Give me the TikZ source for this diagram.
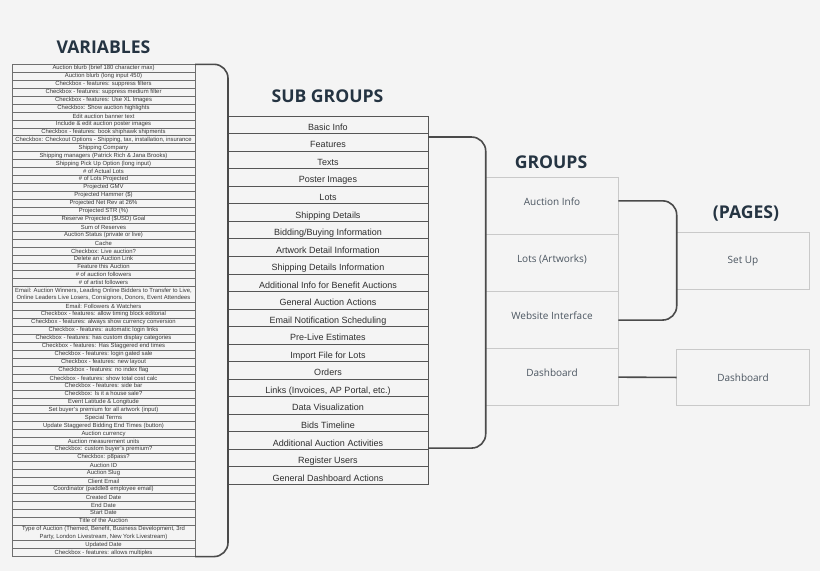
\documentclass[tikz,border=0pt]{standalone}
\usepackage{fontspec}
\setmainfont{Liberation Sans}
\newfontfamily\tfont{Open Sans}
\usetikzlibrary{positioning}
\definecolor{bg}{HTML}{F4F4F4}
\definecolor{vline}{HTML}{6E6E6E}
\definecolor{vtext}{HTML}{3A3A3A}
\definecolor{sline}{HTML}{555555}
\definecolor{stext}{HTML}{2E2E2E}
\definecolor{gline}{HTML}{C9C9C9}
\definecolor{gtext}{HTML}{4A5560}
\definecolor{ttl}{HTML}{253442}
\definecolor{brk}{HTML}{4A4A4A}
\tikzset{
  var/.style={draw=vline, line width=0.55pt, minimum width=183pt, minimum height=7.94pt,
    inner sep=0pt, outer sep=0pt, text=vtext, font=\fontsize{5.9}{7.7}\selectfont, anchor=north},
  var2/.style={var, minimum height=15.88pt, align=center},
  sub/.style={draw=sline, line width=0.7pt, minimum width=200pt, minimum height=17.54pt,
    inner sep=0pt, outer sep=0pt, text=stext, font=\fontsize{9}{10}\selectfont,
    text height=11.1pt, text depth=0pt, anchor=north},
  grp/.style={draw=gline, line width=0.8pt, minimum width=132.6pt, minimum height=57.1pt,
    inner sep=0pt, outer sep=0pt, text=gtext, font=\tfont\fontsize{10}{12}\selectfont, anchor=north},
  grpt/.style={grp, text height=6pt, text depth=6.6pt},
  ttlnode/.style={text=ttl, font=\tfont\bfseries\fontsize{17.6}{20}\selectfont, inner sep=0pt},
  bracket/.style={draw=brk, line width=1.6pt, rounded corners=14pt},
}
\begin{document}
\begin{tikzpicture}[x=1pt,y=-1pt]
\fill[bg] (0,0) rectangle (820,571);
\useasboundingbox (0,0) rectangle (820,571);

% titles
\node[ttlnode] (tv) at (103.5,47) {VARIABLES};
\node[ttlnode] (ts) at (327.5,96) {SUB GROUPS};
\node[ttlnode] (tg) at (551,162) {GROUPS};
\node[ttlnode] (tp) at (746,214) {(PAGES)};

% variables
\node[var] (v1) at (103.5,64.3) {Auction blurb (brief 180 character max)};
\node[var, below=0pt of v1] (v2) {Auction blurb (long input 450)};
\node[var, below=0pt of v2] (v3) {Checkbox - features: suppress filters};
\node[var, below=0pt of v3] (v4) {Checkbox - features: suppress medium filter};
\node[var, below=0pt of v4] (v5) {Checkbox - features: Use XL Images};
\node[var, below=0pt of v5] (v6) {Checkbox: Show auction highlights};
\node[var, below=0pt of v6] (v7) {Edit auction banner text};
\node[var, below=0pt of v7] (v8) {Include \& edit auction poster images};
\node[var, below=0pt of v8] (v9) {Checkbox - features: book shiphawk shipments};
\node[var, below=0pt of v9] (v10) {Checkbox: Checkout Options - Shipping, tax, installation, insurance};
\node[var, below=0pt of v10] (v11) {Shipping Company};
\node[var, below=0pt of v11] (v12) {Shipping managers (Patrick Rich \& Jana Brooks)};
\node[var, below=0pt of v12] (v13) {Shipping Pick Up Option (long input)};
\node[var, below=0pt of v13] (v14) {\# of Actual Lots};
\node[var, below=0pt of v14] (v15) {\# of Lots Projected};
\node[var, below=0pt of v15] (v16) {Projected GMV};
\node[var, below=0pt of v16] (v17) {Projected Hammer (\$)};
\node[var, below=0pt of v17] (v18) {Projected Net Rev at 26\%};
\node[var, below=0pt of v18] (v19) {Projected STR (\%)};
\node[var, below=0pt of v19] (v20) {Reserve Projected (\$USD) Goal};
\node[var, below=0pt of v20] (v21) {Sum of Reserves};
\node[var, below=0pt of v21] (v22) {Auction Status (private or live)};
\node[var, below=0pt of v22] (v23) {Cache};
\node[var, below=0pt of v23] (v24) {Checkbox: Live auction?};
\node[var, below=0pt of v24] (v25) {Delete an Auction Link};
\node[var, below=0pt of v25] (v26) {Feature this Auction};
\node[var, below=0pt of v26] (v27) {\# of auction followers};
\node[var, below=0pt of v27] (v28) {\# of artist followers};
\node[var2, below=0pt of v28] (v29) {Email: Auction Winners, Leading Online Bidders to Transfer to Live,\\Online Leaders Live Losers, Consignors, Donors, Event Attendees};
\node[var, below=0pt of v29] (v30) {Email: Followers \& Watchers};
\node[var, below=0pt of v30] (v31) {Checkbox - features: allow timing block editorial};
\node[var, below=0pt of v31] (v32) {Checkbox - features: always show currency conversion};
\node[var, below=0pt of v32] (v33) {Checkbox - features: automatic login links};
\node[var, below=0pt of v33] (v34) {Checkbox - features: has custom display categories};
\node[var, below=0pt of v34] (v35) {Checkbox - features: Has Staggered end times};
\node[var, below=0pt of v35] (v36) {Checkbox - features: login gated sale};
\node[var, below=0pt of v36] (v37) {Checkbox - features: new layout};
\node[var, below=0pt of v37] (v38) {Checkbox - features: no index flag};
\node[var, below=0pt of v38] (v39) {Checkbox - features: show total cost calc};
\node[var, below=0pt of v39] (v40) {Checkbox - features: side bar};
\node[var, below=0pt of v40] (v41) {Checkbox: Is it a house sale?};
\node[var, below=0pt of v41] (v42) {Event Latitude \& Longitude};
\node[var, below=0pt of v42] (v43) {Set buyer's premium for all artwork (input)};
\node[var, below=0pt of v43] (v44) {Special Terms};
\node[var, below=0pt of v44] (v45) {Update Staggered Bidding End Times (button)};
\node[var, below=0pt of v45] (v46) {Auction currency};
\node[var, below=0pt of v46] (v47) {Auction measurement units};
\node[var, below=0pt of v47] (v48) {Checkbox: custom buyer's premium?};
\node[var, below=0pt of v48] (v49) {Checkbox: p8pass?};
\node[var, below=0pt of v49] (v50) {Auction ID};
\node[var, below=0pt of v50] (v51) {Auction Slug};
\node[var, below=0pt of v51] (v52) {Client Email};
\node[var, below=0pt of v52] (v53) {Coordinator (paddle8 employee email)};
\node[var, below=0pt of v53] (v54) {Created Date};
\node[var, below=0pt of v54] (v55) {End Date};
\node[var, below=0pt of v55] (v56) {Start Date};
\node[var, below=0pt of v56] (v57) {Title of the Auction};
\node[var2, below=0pt of v57] (v58) {Type of Auction (Themed, Benefit, Business Development, 3rd\\Party, London Livestream, New York Livestream)};
\node[var, below=0pt of v58] (v59) {Updated Date};
\node[var, below=0pt of v59] (v60) {Checkbox - features: allows multiples};

% sub groups
\node[sub] (s1) at (328,116) {Basic Info};
\node[sub, below=0pt of s1] (s2) {Features};
\node[sub, below=0pt of s2] (s3) {Texts};
\node[sub, below=0pt of s3] (s4) {Poster Images};
\node[sub, below=0pt of s4] (s5) {Lots};
\node[sub, below=0pt of s5] (s6) {Shipping Details};
\node[sub, below=0pt of s6] (s7) {Bidding/Buying Information};
\node[sub, below=0pt of s7] (s8) {Artwork Detail Information};
\node[sub, below=0pt of s8] (s9) {Shipping Details Information};
\node[sub, below=0pt of s9] (s10) {Additional Info for Benefit Auctions};
\node[sub, below=0pt of s10] (s11) {General Auction Actions};
\node[sub, below=0pt of s11] (s12) {Email Notification Scheduling};
\node[sub, below=0pt of s12] (s13) {Pre-Live Estimates};
\node[sub, below=0pt of s13] (s14) {Import File for Lots};
\node[sub, below=0pt of s14] (s15) {Orders};
\node[sub, below=0pt of s15] (s16) {Links (Invoices, AP Portal, etc.)};
\node[sub, below=0pt of s16] (s17) {Data Visualization};
\node[sub, below=0pt of s17] (s18) {Bids Timeline};
\node[sub, below=0pt of s18] (s19) {Additional Auction Activities};
\node[sub, below=0pt of s19] (s20) {Register Users};
\node[sub, below=0pt of s20] (s21) {General Dashboard Actions};

% groups
\node[grpt] (g1) at (552,177.3) {Auction Info};
\node[grpt, below=0pt of g1] (g2) {Lots (Artworks)};
\node[grpt, below=0pt of g2] (g3) {Website Interface};
\node[grpt, below=0pt of g3] (g4) {Dashboard};

% pages
\node[grp, minimum height=56.3pt] (p1) at (743,232.7) {Set Up};
\node[grp, minimum height=56.3pt] (p2) at (743,349.3) {Dashboard};

% brackets
\draw[bracket] (v1.north east) -- (v1.north east -| s1.north west)
  -- (v60.south east -| s1.north west) -- (v60.south east);
\draw[bracket] ([yshift=-3.5pt]s2.north east) -- ([yshift=-3.5pt]s2.north east -| g1.north west)
  -- ([yshift=1.2pt]s19.south east -| g1.north west) -- ([yshift=1.2pt]s19.south east);
\draw[bracket] ([yshift=5pt]g1.east) -- ([yshift=5pt]g1.east -| p1.west)
  -- (g3.east -| p1.west) -- (g3.east);
\draw[draw=brk, line width=1.6pt] (g4.east) -- (p2.west);
\end{tikzpicture}
\end{document}
